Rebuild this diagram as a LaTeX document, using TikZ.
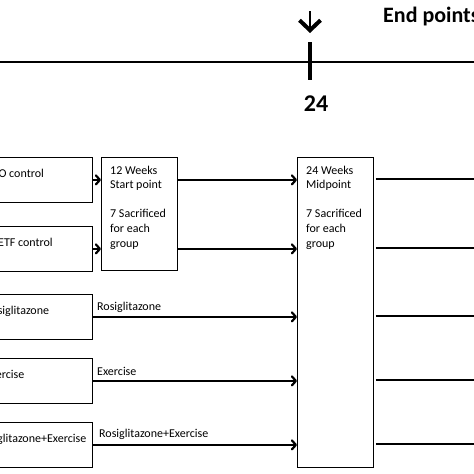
\documentclass[tikz,border=0pt]{standalone}
\usepackage{fontspec}
\setmainfont{Carlito}
\usetikzlibrary{arrows.meta}
\begin{document}
\begin{tikzpicture}[x=1pt, y=-1pt, font=\fontsize{12}{14.6}\selectfont,
        box/.style={draw, line width=.8pt, inner sep=0pt, anchor=north west},
        boxtext/.style={anchor=base west, inner sep=0pt, align=left},
        sidetext/.style={anchor=north west, inner sep=0pt, align=left},
        conn/.style={line width=1.3pt, -{Straight Barb[length=4pt, width=9pt, line width=2.2pt, round]}},
        plain/.style={line width=1.3pt}]
    \useasboundingbox (0,0) rectangle (474,474);
    \clip (0,0) rectangle (474,474);

        \coordinate (lineL) at (-5,62);
        \coordinate (lineR) at (480,62);
        \coordinate (tickT) at (310,42);
        \coordinate (tickB) at (310,80);
        \coordinate (markT) at (310,11);
        \coordinate (markB) at (310,33);
    \draw[line width=2.8pt] (lineL) to (lineR);
    \draw[line width=3.4pt] (tickT) to (tickB);
    \draw[line width=2.8pt, -{Straight Barb[length=10pt, width=21pt, line width=4pt]}] (markT) to (markB);

    \node[font=\fontsize{24}{24}\selectfont\bfseries] (wk24) at (316,104) {24};
    \node[font=\fontsize{22}{22}\selectfont\bfseries, anchor=base west, inner sep=0pt] (endpts) at (383,22) {End points};

        \node[box, minimum width=117pt, minimum height=45pt] (leto) at (-25,157) {};
        \node[boxtext] (letoT) at (-18,177) {LETO control};
        \node[box, minimum width=117pt, minimum height=45pt] (oletf) at (-25,226) {};
        \node[boxtext] (oletfT) at (-15,246) {OLETF control};
        \node[box, minimum width=117pt, minimum height=45pt] (rosi) at (-25,294) {};
        \node[boxtext] (rosiT) at (-15,314) {Rosiglitazone};
        \node[box, minimum width=117pt, minimum height=45pt] (exer) at (-25,358) {};
        \node[boxtext] (exerT) at (-15,378) {Exercise};
        \node[box, minimum width=117pt, minimum height=45pt] (combo) at (-25,422) {};
        \node[boxtext] (comboT) at (-23,442) {Rosiglitazone+Exercise};

    \node[box, minimum width=76pt, minimum height=113pt] (start) at (101,157) {};
    \node[sidetext] (startT) at (110,165.5) {12 Weeks\\Start point\\[14.6pt]7 Sacrificed\\for each\\group};
    \node[box, minimum width=76pt, minimum height=310pt] (mid) at (297,157) {};
    \node[sidetext] (midT) at (306,165.5) {24 Weeks\\Midpoint\\[14.6pt]7 Sacrificed\\for each\\group};

        \draw[conn] (leto.east) to (start.west |- leto.east);
        \draw[conn] (oletf.east) to (start.west |- oletf.east);
        \draw[conn] (start.east |- leto.east) to (mid.west |- leto.east);
        \draw[conn] (start.east |- oletf.east) to (mid.west |- oletf.east);
        \draw[conn] (rosi.east) to (mid.west |- rosi.east);
        \draw[conn] (exer.east) to (mid.west |- exer.east);
        \draw[conn] (combo.east) to (mid.west |- combo.east);

    \node[boxtext] (rosiL) at (97,310) {Rosiglitazone};
    \node[boxtext] (exerL) at (97,375) {Exercise};
    \node[boxtext] (comboL) at (99,437) {Rosiglitazone+Exercise};

        \coordinate (outA) at (480,179);
        \coordinate (outB) at (480,248);
        \coordinate (outC) at (480,316);
        \coordinate (outD) at (480,380);
        \coordinate (outE) at (480,444);
        \draw[plain] ([xshift=2pt]mid.east |- outA) to (outA);
        \draw[plain] ([xshift=2pt]mid.east |- outB) to (outB);
        \draw[plain] ([xshift=2pt]mid.east |- outC) to (outC);
        \draw[plain] ([xshift=2pt]mid.east |- outD) to (outD);
        \draw[plain] ([xshift=2pt]mid.east |- outE) to (outE);
\end{tikzpicture}
\end{document}
